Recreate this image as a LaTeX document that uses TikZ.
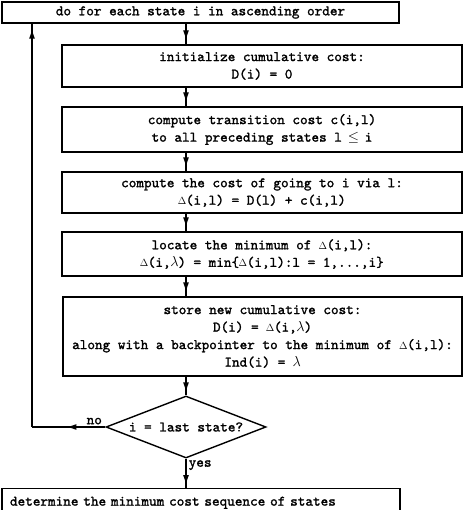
\documentclass[tikz,border=0pt]{standalone}
\usepackage{fontspec}
\setmonofont{lmmono10-regular.otf}[FakeBold=1.5]
\usetikzlibrary{shapes.geometric,arrows.meta,decorations.markings}
\newcommand\mytt{\fontsize{14.5}{17.5}\selectfont\ttfamily}
\newcommand\Dlt{\makebox[0.525em]{\scalebox{0.72}{$\Delta$}}}
\newcommand\lmb{\makebox[0.525em]{$\lambda$}}
\newcommand\leqq{\makebox[0.525em]{$\le$}}
\tikzset{
  box/.style={draw, line width=1.4pt, inner sep=0pt, align=center, font=\mytt},
  flow/.style={line width=1.4pt},
  tipat/.style={postaction={decorate}, decoration={markings,
      mark=at position #1 with {\arrow{Latex[length=10pt,width=6pt]}}}},
  lbl/.style={font=\mytt, inner sep=2pt},
}
\begin{document}
\begin{tikzpicture}[x=1pt,y=-1pt]
\useasboundingbox (0,0) rectangle (474,510);
\begin{scope}
\clip (0,0) rectangle (474,510);
\node[box, minimum width=397pt, minimum height=21pt] (b1) at (200.5,12.5)
  {do for each state i in ascending order};
\node[box, minimum width=400pt, minimum height=42pt] (b2) at (262,66)
  {initialize cumulative cost:\\D(i) = 0};
\node[box, minimum width=400pt, minimum height=45pt] (b3) at (262,129.5)
  {compute transition cost c(i,l)\\to all preceding states l \leqq{} i};
\node[box, minimum width=400pt, minimum height=41pt] (b4) at (262,192.5)
  {compute the cost of going to i via l:\\\Dlt(i,l) = D(l) + c(i,l)};
\node[box, minimum width=400pt, minimum height=44pt] (b5) at (262,254)
  {locate the minimum of \Dlt(i,l):\\\Dlt(i,\lmb) = min\{\Dlt(i,l):l = 1,...,i\}};
\node[box, minimum width=399pt, minimum height=79pt] (b6) at (262.5,336.5)
  {store new cumulative cost:\\D(i) = \Dlt(i,\lmb)\\along with a backpointer to the minimum of \Dlt(i,l):\\Ind(i) = \lmb};
\node[box, diamond, aspect=2.58, minimum width=160pt, minimum height=62pt] (d) at (186,427)
  {i = last state?};
\node[box, anchor=north, align=left, text width=382pt, inner xsep=8pt, inner ysep=8pt] (b7) at (201,488)
  {determine the minimum cost sequence of states\\ \mbox{}};
\coordinate (col) at (186,0);
\coordinate (loop) at (32,0);
\draw[flow, tipat=-4pt] (b1.south -| col) -- (b2.north -| col);
\draw[flow, tipat=-4pt] (b2.south -| col) -- (b3.north -| col);
\draw[flow, tipat=-4pt] (b3.south -| col) -- (b4.north -| col);
\draw[flow, tipat=-4pt] (b4.south -| col) -- (b5.north -| col);
\draw[flow, tipat=-4pt] (b5.south -| col) -- (b6.north -| col);
\draw[flow, tipat=-3pt] (b6.south -| col) -- (d.north);
\draw[flow, tipat=-3pt] (d.south) -- node[lbl, pos=0.22, anchor=west] {yes} (b7.north -| col);
\draw[flow, tipat=0.53] (d.west) -- node[lbl, pos=0.15, anchor=south] {no} (d.west -| loop);
\draw[flow, tipat=-5pt] (d.west -| loop) -- (b1.south -| loop);
\end{scope}
\end{tikzpicture}
\end{document}
